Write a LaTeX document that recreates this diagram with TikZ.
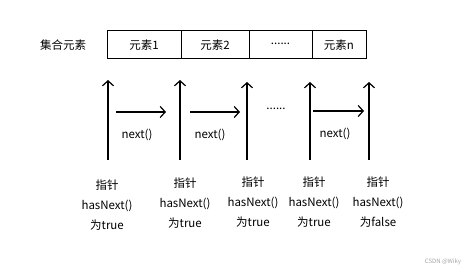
\documentclass[tikz,border=0pt]{standalone}
\usepackage{fontspec}
\setmainfont{Noto Sans CJK SC}
\usetikzlibrary{arrows.meta}

\begin{document}
\begin{tikzpicture}[x=1pt, y=-1pt,
    cell/.style={draw, line width=1pt, minimum height=28pt, inner sep=0pt, font=\fontsize{11.5}{14}\selectfont},
    ptr/.style={-{Straight Barb[length=5pt, width=11pt, line width=1.2pt]}, line width=1.3pt},
    lbl/.style={font=\fontsize{11.5}{14}\selectfont},
    ptrtext/.style={align=center, font=\fontsize{11.5}{20}\selectfont}]
                \useasboundingbox (0,0) rectangle (474,272);

                \node[lbl] (title) at (63,45) {集合元素};
                \node[cell, minimum width=74pt] (c1) at (144,45) {元素1};
                \node[cell, minimum width=68pt] (c2) at (215,45) {元素2};
                \node[cell, minimum width=63pt] (c3) at (280.5,45) {\raisebox{2pt}{......}};
                \node[cell, minimum width=54pt] (c4) at (339,45) {元素n};

                \coordinate (b1) at (108,160); \coordinate (t1) at (108,80);
                \coordinate (b2) at (180,160); \coordinate (t2) at (180,80);
                \coordinate (b3) at (247,160); \coordinate (t3) at (247,82);
                \coordinate (b4) at (310,160); \coordinate (t4) at (310,82);
                \coordinate (b5) at (369,160); \coordinate (t5) at (369,82);
                \draw[ptr] (b1) -- (t1);
                \draw[ptr] (b2) -- (t2);
                \draw[ptr] (b3) -- (t3);
                \draw[ptr] (b4) -- (t4);
                \draw[ptr] (b5) -- (t5);

                \coordinate (s1) at (116,112); \coordinate (e1) at (166,112);
                \coordinate (s2) at (190,112); \coordinate (e2) at (240,112);
                \coordinate (s3) at (313,111); \coordinate (e3) at (364,111);
                \draw[ptr] (s1) -- (e1);
                \draw[ptr] (s2) -- (e2);
                \draw[ptr] (s3) -- (e3);

                \node[lbl] (n1) at (137,135) {next()};
                \node[lbl] (n2) at (210,135) {next()};
                \node[lbl] (dots) at (276,109) {......};
                \node[lbl] (n3) at (335,134) {next()};

                \node[ptrtext] (p1) at (107,205) {指针\\hasNext()\\为true};
                \node[ptrtext] (p2) at (185,203) {指针\\hasNext()\\为true};
                \node[ptrtext] (p3) at (253,202) {指针\\hasNext()\\为true};
                \node[ptrtext] (p4) at (314,202) {指针\\hasNext()\\为true};
                \node[ptrtext] (p5) at (378,202) {指针\\hasNext()\\为false};

                \node[font=\fontsize{6}{7}\selectfont, text=black!35] (mark) at (443,262) {CSDN @Wiky};
            \end{tikzpicture}
\end{document}
